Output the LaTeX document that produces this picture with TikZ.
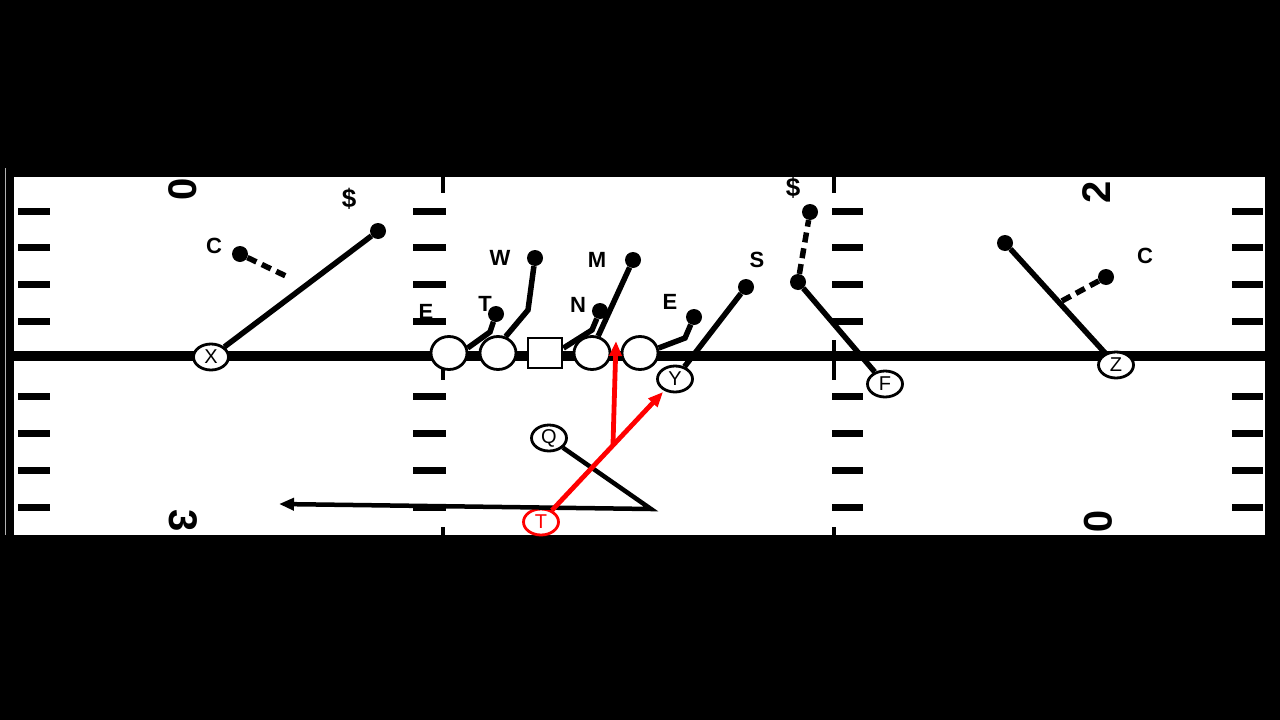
\documentclass[tikz,border=0pt]{standalone}
\usepackage{fontspec}
\setmainfont{Liberation Sans}
\usetikzlibrary{arrows.meta,shapes.geometric}
\begin{document}
\begin{tikzpicture}[x=1pt,y=-1pt,
  player/.style={draw, line width=2.8pt, ellipse, fill=white, minimum width=35pt, minimum height=26pt, inner sep=0pt, font=\fontsize{20}{20}\selectfont},
  olb/.style={player, minimum width=36pt, minimum height=33pt},
  ctr/.style={draw, line width=2.8pt, fill=white, rectangle, minimum width=34pt, minimum height=30pt, inner sep=0pt},
  dot/.style={circle, fill=black, minimum size=16pt, inner sep=0pt},
  lbl/.style={font=\bfseries\fontsize{22}{22}\selectfont, inner sep=0pt},
  route/.style={line width=5.5pt},
  zone/.style={line width=5.5pt, dash pattern=on 10pt off 6pt},
  redroute/.style={line width=4.8pt, red},
  tip/.style={-{Triangle[length=15pt,width=12pt]}},
  hash/.style={line width=7pt},
  yline/.style={line width=3.5pt},
  num/.style={font=\bfseries\fontsize{40}{40}\selectfont, inner sep=0pt}]
% background and field
\fill[black] (0,0) rectangle (1280,720);
\useasboundingbox (0,0) rectangle (1280,720);
\fill[white] (14,177) rectangle (1265,535);
\draw[gray!60, line width=1pt] (5,168) -- (5,535);
% hash marks
\foreach \yy in {211,247,284,321,396,433,470,507} {
  \draw[hash] (18,\yy) -- (50,\yy);
  \draw[hash] (413,\yy) -- (446,\yy);
  \draw[hash] (832,\yy) -- (863,\yy);
  \draw[hash] (1232,\yy) -- (1263,\yy);
}
% yard line ticks
\foreach \xx in {443,834} {
  \draw[yline] (\xx,177) -- (\xx,193);
  \draw[yline] (\xx,340) -- (\xx,380);
  \draw[yline] (\xx,527) -- (\xx,535);
}
% line of scrimmage
\draw[line width=10pt] (14,356) -- (1265,356);
% numbers
\node[num, rotate=90] (n0a) at (183,189) {0};
\node[num, rotate=90] (n2) at (1097,192) {2};
\node[num, rotate=-90] (n3) at (183,521) {3};
\node[num, rotate=-90] (n0b) at (1098,522) {0};
% dots
\node[dot] (xd) at (378,231) {};
\node[dot] (cd) at (240,254) {};
\node[dot] (td) at (496,314) {};
\node[dot] (wd) at (535,258) {};
\node[dot] (nd) at (600,311) {};
\node[dot] (md) at (633,260) {};
\node[dot] (ed) at (694,317) {};
\node[dot] (sd) at (746,287) {};
\node[dot] (fd) at (798,282) {};
\node[dot] (dd) at (810,212) {};
\node[dot] (zd) at (1005,243) {};
\node[dot] (c2d) at (1106,277) {};
% coordinates
\coordinate (cend) at (290,278);
\coordinate (c2end) at (1060,302);
\coordinate (tb) at (490,332);
\coordinate (wb) at (528,310);
\coordinate (nb) at (592,330);
\coordinate (eb) at (685,338);
\coordinate (qb) at (651,509);
\coordinate (qend) at (279,504);
\coordinate (rtip) at (663,392);
\coordinate (rb) at (613,444);
\coordinate (rtop) at (616,341);
% offensive line
\node[olb] (ol1) at (449,353) {};
\node[olb] (ol2) at (498,353) {};
\node[ctr] (sq) at (545,353) {};
\node[olb] (ol4) at (592,353) {};
\node[olb] (ol5) at (640,353) {};
% skill players
\node[player] (X) at (211,357) {X};
\node[player] (Y) at (675,379) {Y};
\node[player] (F) at (885,384) {F};
\node[player] (Z) at (1116,365) {Z};
\node[player] (Q) at (549,438) {Q};
\node[player, draw=red, text=red] (T) at (541,522) {T};
% routes
\draw[route] (X) -- (xd);
\draw[zone] (cd) -- (cend);
\draw[route] (ol1.15) -- (tb) -- (td);
\draw[route] (ol2.65) -- (wb) -- (wd);
\draw[route] (sq.15) -- (nb) -- (nd);
\draw[route] (ol4.70) -- (md);
\draw[route] (ol5.15) -- (eb) -- (ed);
\draw[route] (Y) -- (sd);
\draw[route] (F) -- (fd);
\draw[zone] (fd) -- (dd);
\draw[route] (Z) -- (zd);
\draw[zone] (c2d) -- (c2end);
\draw[line width=4.5pt, tip] (Q) -- (qb) -- (qend);
\draw[redroute, tip] (T) -- (rtip);
\draw[redroute, tip] (rb) -- (rtop);
% labels
\node[lbl, font=\bfseries\fontsize{26}{26}\selectfont] (l1) at (349,199) {\$};
\node[lbl] (l2) at (214,246) {C};
\node[lbl] (l3) at (426,312) {E};
\node[lbl] (l4) at (485,304) {T};
\node[lbl] (l5) at (500,258) {W};
\node[lbl] (l6) at (578,305) {N};
\node[lbl] (l7) at (597,260) {M};
\node[lbl] (l8) at (670,302) {E};
\node[lbl] (l9) at (757,260) {S};
\node[lbl, font=\bfseries\fontsize{26}{26}\selectfont] (l10) at (793,188) {\$};
\node[lbl] (l11) at (1145,256) {C};
\end{tikzpicture}
\end{document}
